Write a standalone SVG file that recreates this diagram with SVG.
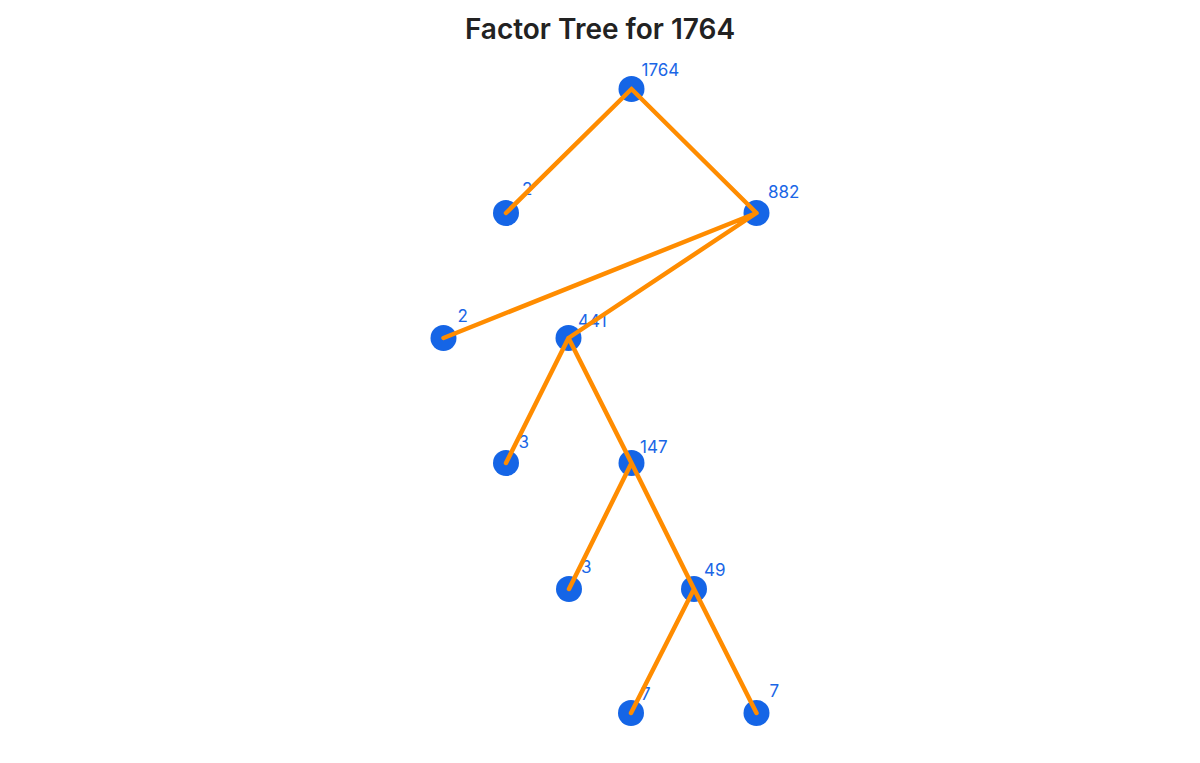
<svg xmlns="http://www.w3.org/2000/svg" width="1200" height="763" viewBox="0 0 1200 763">
<style>
.n{fill:#1565e6}
.l{font-family:Inter,"Noto Sans",sans-serif;font-size:17px;fill:#1a66e6}
.e{stroke:#ff8c00;stroke-width:4.5;stroke-linecap:round;fill:none}
.t{font-family:Inter,"Noto Sans",sans-serif;font-size:28px;font-weight:600;fill:#222}
</style>
<rect width="1200" height="763" fill="#fff"/>
<text class="t" x="600" y="39" text-anchor="middle">Factor Tree for 1764</text>
<g id="n1764"><circle class="n" cx="631.5" cy="89" r="13"/><text class="l" x="641.5" y="76">1764</text></g>
<g id="n2a"><circle class="n" cx="506" cy="213" r="13"/><text class="l" x="522" y="195">2</text></g>
<g id="n882"><circle class="n" cx="756.5" cy="213" r="13"/><text class="l" x="768" y="198">882</text></g>
<g id="n2b"><circle class="n" cx="443.5" cy="338" r="13"/><text class="l" x="457.5" y="322">2</text></g>
<g id="n441"><circle class="n" cx="568.5" cy="338" r="13"/><text class="l" x="578" y="327">441</text></g>
<g id="n3a"><circle class="n" cx="506" cy="463" r="13"/><text class="l" x="518.5" y="448">3</text></g>
<g id="n147"><circle class="n" cx="631.5" cy="463" r="13"/><text class="l" x="640" y="453">147</text></g>
<g id="n3b"><circle class="n" cx="569" cy="589" r="13"/><text class="l" x="581" y="573">3</text></g>
<g id="n49"><circle class="n" cx="694" cy="589" r="13"/><text class="l" x="704" y="576">49</text></g>
<g id="n7a"><circle class="n" cx="631" cy="713" r="13"/><text class="l" x="641" y="700">7</text></g>
<g id="n7b"><circle class="n" cx="756.5" cy="713" r="13"/><text class="l" x="769.5" y="697">7</text></g>
<g id="edges">
<path class="e" d="M631.5 89L506 213M631.5 89L756.5 213M756.5 213L443.5 338M756.5 213L568.5 338M568.5 338L506 463M568.5 338L631.5 463M631.5 463L569 589M631.5 463L694 589M694 589L631 713M694 589L756.5 713"/>
</g>
</svg>
